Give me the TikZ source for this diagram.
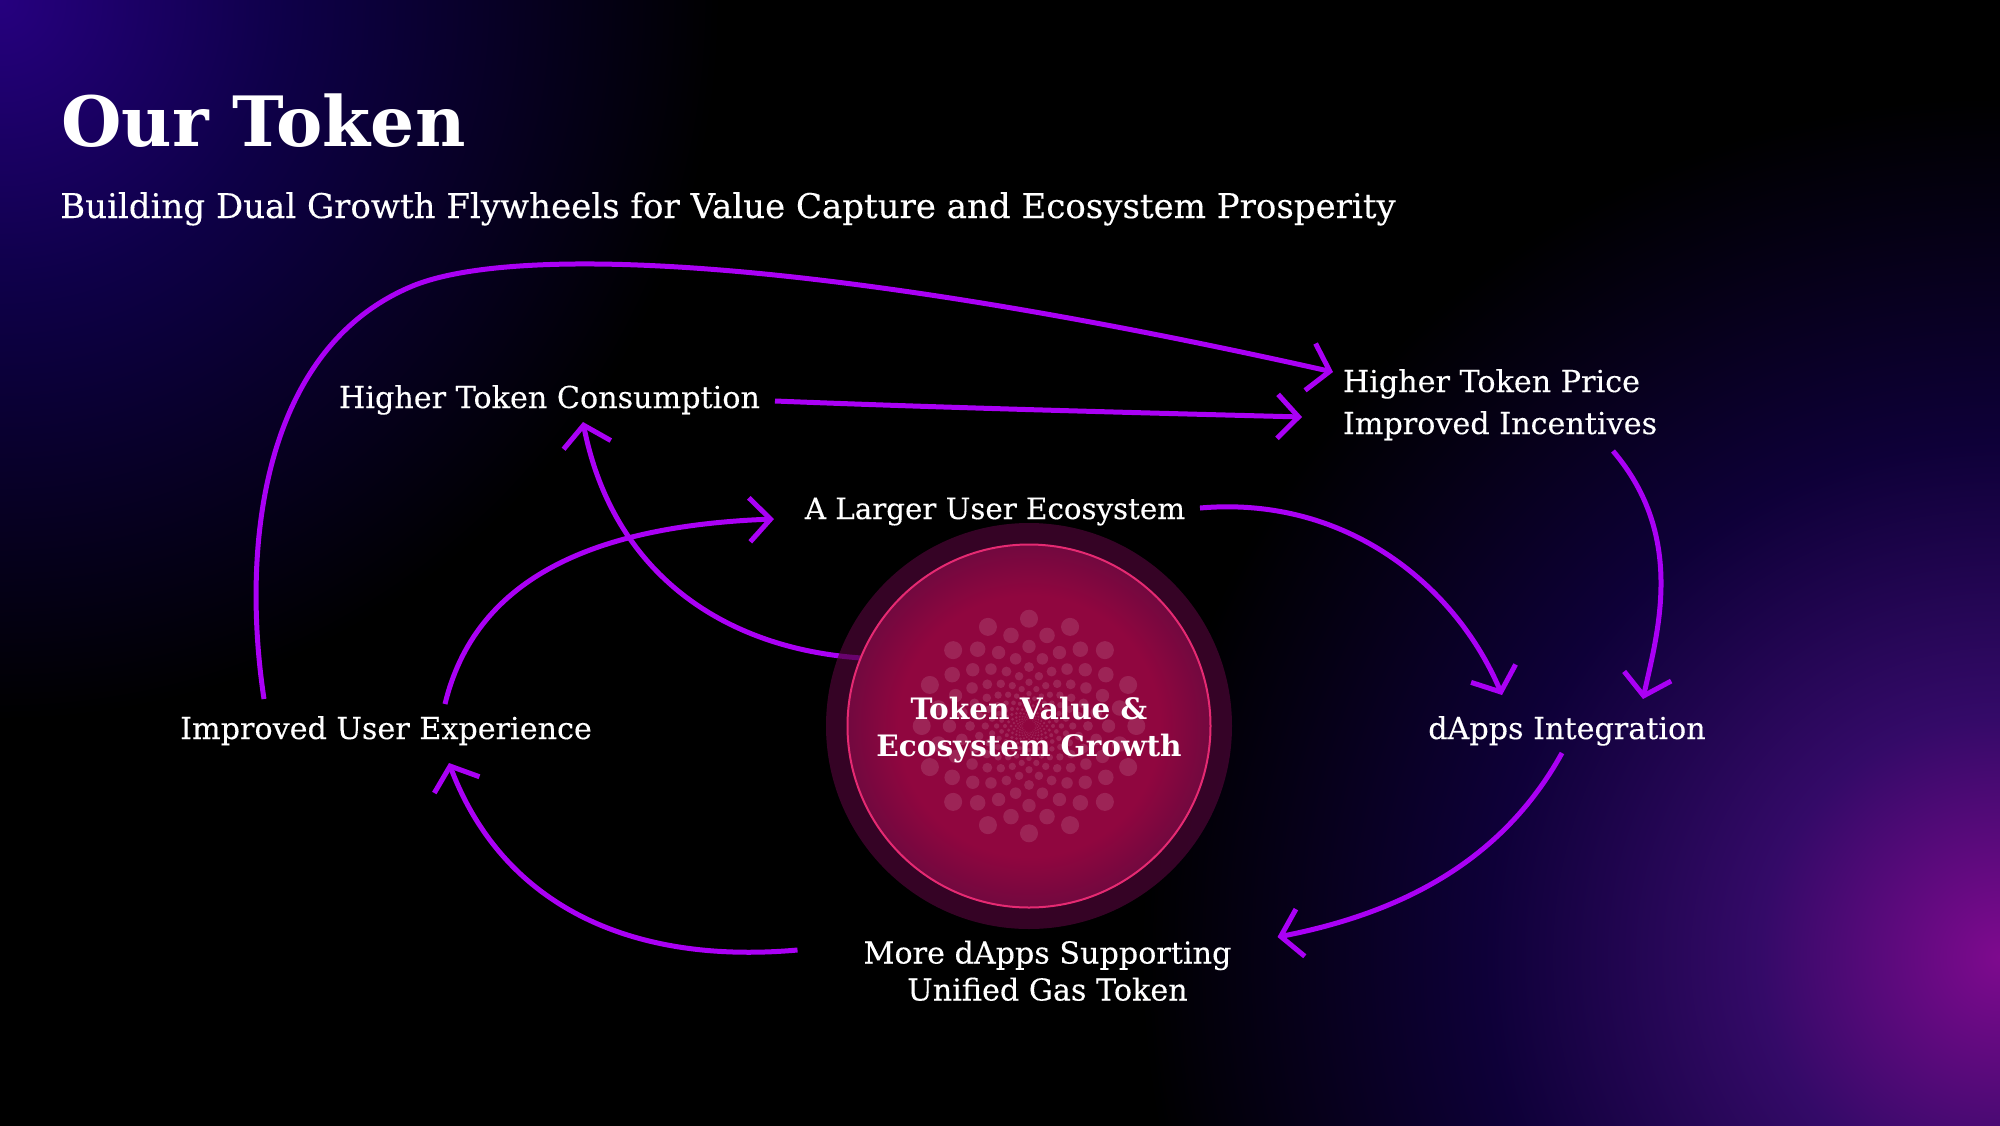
\documentclass[tikz,border=0pt]{standalone}
\usepackage{fontspec}
\usepackage{xcolor}
\usetikzlibrary{arrows.meta, bending}
\setmainfont{DejaVu Serif}[UprightFeatures={FakeBold=0.25}]

\definecolor{flowcol}{HTML}{AA00F5}
\definecolor{blueglow}{HTML}{26007F}
\definecolor{blueglowmid}{HTML}{0E0048}
\definecolor{purpleglow}{HTML}{7E0A8E}
\definecolor{purpleglowmid}{HTML}{340A68}
\definecolor{navyglow}{HTML}{0E0038}
\definecolor{ringcol}{HTML}{4C0535}
\definecolor{tokenedge}{HTML}{E52A72}
\definecolor{tokeninner}{HTML}{90063F}
\definecolor{tokenouter}{HTML}{72083F}

\pgfdeclareradialshading{topglow}{\pgfpoint{0bp}{0bp}}{color(0bp)=(blueglow); color(10bp)=(blueglowmid); color(25bp)=(black); color(50bp)=(black)}
\pgfdeclareradialshading{bottomglow}{\pgfpoint{0bp}{0bp}}{color(0bp)=(purpleglow); color(7bp)=(purpleglowmid); color(15bp)=(navyglow); color(25bp)=(black); color(50bp)=(black)}
\pgfdeclareradialshading{tokenglow}{\pgfpoint{0bp}{0bp}}{color(0bp)=(tokeninner); color(18bp)=(tokeninner); color(25bp)=(tokenouter); color(50bp)=(tokenouter)}

\tikzset{
	tag/.style={text=white, inner sep=0pt, anchor=base, font=\fontsize{30.2}{42}\selectfont},
	flow/.style={draw=flowcol, line width=5pt, -{Straight Barb[length=21pt,width=44pt]}},
	bentflow/.style={draw=flowcol, line width=5pt, -{Straight Barb[length=20pt,width=48pt]}},
}

\begin{document}
\begin{tikzpicture}[x=1pt, y=-1pt]
	\useasboundingbox (0,0) rectangle (2000,1125);
	\clip (-3,-3) rectangle (2003,1128);
	\fill[black] (-3,-3) rectangle (2003,1128);
	\shade[shading=topglow] (0,0) circle (720);
	\shade[shading=bottomglow] (2000,957) circle (860);

	\node[tag, anchor=base west, font=\bfseries\fontsize{69.4}{80}\selectfont] (title) at (61,146) {Our Token};
	\node[tag, anchor=base west, font=\fontsize{34}{40}\selectfont] (subtitle) at (60,218) {Building Dual Growth Flywheels for Value Capture and Ecosystem Prosperity};

	\node[tag] (consume) at (549.5,408) {Higher Token Consumption};
	\node[tag, font=\fontsize{29.3}{42}\selectfont] (eco) at (995,519) {A Larger User Ecosystem};
	\node[tag] (ux) at (386,739) {Improved User Experience};
	\node[tag] (dapps) at (1567,739) {dApps Integration};
	\node[tag, align=left] (price) at (1500,434) {Higher Token Price\\Improved Incentives};
	\node[tag, align=center, font=\fontsize{30.2}{37}\selectfont] (more) at (1047.5,1000.5) {More dApps Supporting\\Unified Gas Token};

	% center circle, the last arrow runs under its ring
	\node[circle, minimum size=363pt, inner sep=0pt] (token) at (1029,726) {};
	\draw[bentflow] (token.158) .. controls (720,648) and (610,570) .. ([xshift=33.5pt,yshift=-14pt]consume.base);
	\fill[ringcol, opacity=0.7] (token.center) circle (203);
	\shade[shading=tokenglow] (token.center) circle (181.5);
	\draw[tokenedge, line width=2pt] (token.center) circle (181.5);
	\foreach \n in {0,...,19} {
		\pgfmathsetmacro{\rad}{107.3*0.861^\n}
		\pgfmathsetmacro{\off}{mod(\n,2)==0 ? 0 : 11.25}
		\foreach \k in {0,...,15}
			\fill[white, opacity=0.12] (token.center) ++({\off+22.5*\k}:{\rad}) circle ({0.084*\rad});
	}
	\node[tag, anchor=center, align=center, font=\bfseries\fontsize{29.5}{37.5}\selectfont] (tokenlabel) at (1029,730) {Token Value \&\\Ecosystem Growth};

	\draw[flow] ([xshift=225.5pt,yshift=7pt]consume.base) .. controls (950,408) and (1150,413) .. ([xshift=-198pt,yshift=17pt]price.base);
	\draw[bentflow] ([xshift=-122pt,yshift=40pt]ux.base) .. controls (240,540) and (265,345) .. (415,285) .. controls (510,248) and (790,250) .. ([xshift=-167pt,yshift=62pt]price.base);
	\draw[bentflow] ([xshift=113pt,yshift=-17pt]price.base) .. controls (1689,540) and (1655,640) .. ([xshift=76pt,yshift=40pt]dapps.base);
	\draw[bentflow] ([xshift=205pt,yshift=11pt]eco.base) .. controls (1350,495) and (1460,590) .. ([xshift=-65pt,yshift=44pt]dapps.base);
	\draw[bentflow] ([xshift=-5pt,yshift=-14pt]dapps.base) .. controls (1500,865) and (1395,915) .. ([xshift=230pt,yshift=63.5pt]more.base);
	\draw[bentflow] ([xshift=-250pt,yshift=50.5pt]more.base) .. controls (630,965) and (500,905) .. ([xshift=63pt,yshift=-24pt]ux.base);
	\draw[flow] ([xshift=59pt,yshift=35pt]ux.base) .. controls (475,580) and (590,525) .. ([xshift=-221pt,yshift=0pt]eco.base);
\end{tikzpicture}
\end{document}
